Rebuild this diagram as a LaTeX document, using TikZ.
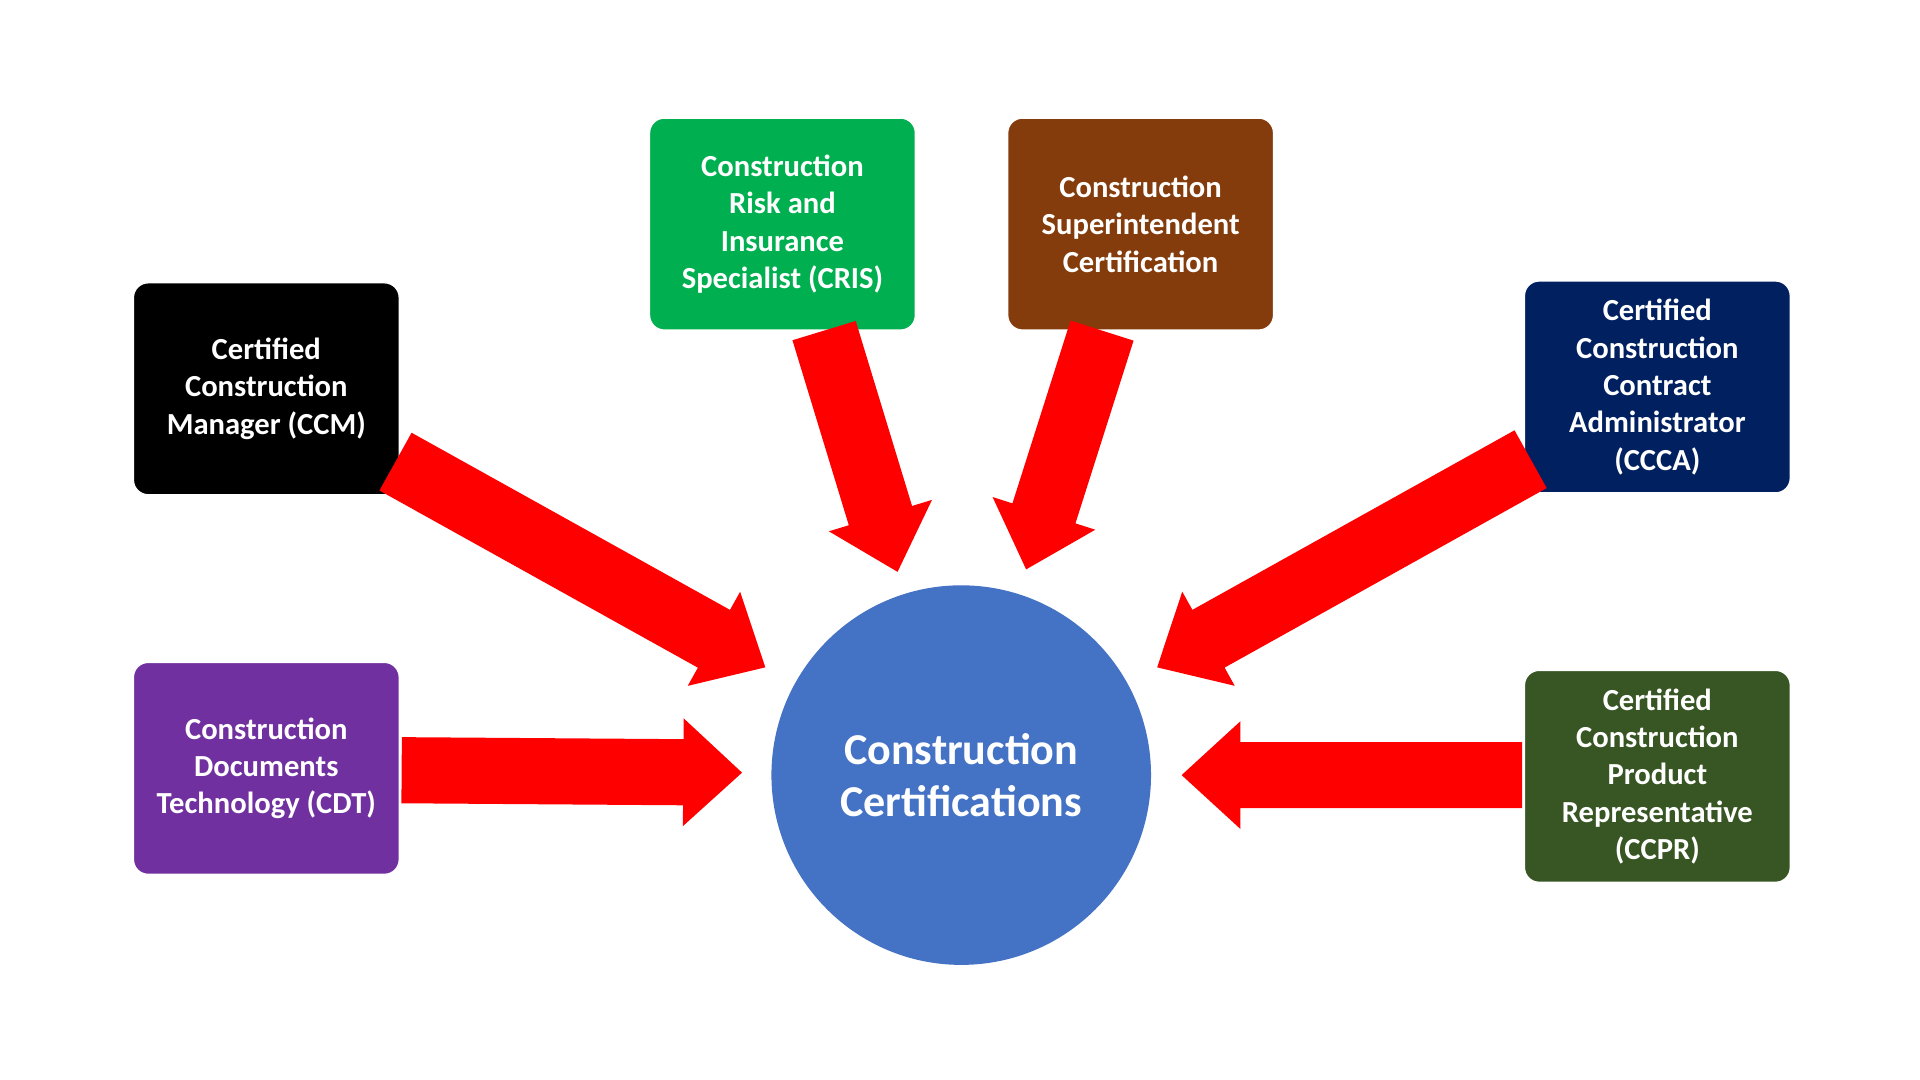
\documentclass[tikz,border=0pt]{standalone}
\usepackage{fontspec}
\setmainfont{Carlito}
\usetikzlibrary{calc}
\definecolor{ccm}{HTML}{000000}
\definecolor{cris}{HTML}{00B050}
\definecolor{sup}{HTML}{843C0C}
\definecolor{ccca}{HTML}{002060}
\definecolor{cdt}{HTML}{7030A0}
\definecolor{ccpr}{HTML}{375623}
\definecolor{circ}{HTML}{4472C4}
\newcommand\blockarrow[2]{%
  \coordinate (N) at ($(#2)!48pt!(#1)$);
  \fill[red] ($(#1)!27pt!90:(#2)$) -- ($(N)!27pt!-90:(#1)$) -- ($(N)!44pt!-90:(#1)$) -- (#2)
    -- ($(N)!44pt!90:(#1)$) -- ($(N)!27pt!90:(#1)$) -- ($(#1)!27pt!-90:(#2)$) -- cycle;}
\begin{document}
\begin{tikzpicture}[x=1pt,y=-1pt,
  cert/.style={draw=white,line width=1pt,rounded corners=12pt,minimum width=217pt,minimum height=173pt,text=white,align=center,font=\bfseries\fontsize{25}{30.5}\selectfont}]
\useasboundingbox (0,0) rectangle (1568,882);
\node[cert,fill=ccm] (ccm) at (217.5,317.5) {Certified\\Construction\\Manager (CCM)};
\node[cert,fill=cris] (cris) at (639,183) {Construction\\Risk and\\Insurance\\Specialist (CRIS)};
\node[cert,fill=sup] (sup) at (931.5,183) {Construction\\Superintendent\\Certification};
\node[cert,fill=ccca] (ccca) at (1353.5,316) {Certified\\Construction\\Contract\\Administrator\\(CCCA)};
\node[cert,fill=cdt] (cdt) at (217.5,627.5) {Construction\\Documents\\Technology (CDT)};
\node[cert,fill=ccpr] (ccpr) at (1353.5,634) {Certified\\Construction\\Product\\Representative\\(CCPR)};
\node[circle,fill=circ,minimum size=310pt,text=white,align=center,font=\bfseries\fontsize{36}{43}\selectfont] (c) at (785,633) {Construction\\Certifications};
\coordinate (t1) at (323,377); \coordinate (h1) at (625,545);
\coordinate (t2) at (673,270); \coordinate (h2) at (733,467);
\coordinate (t3) at (900,270); \coordinate (h3) at (838,465);
\coordinate (t4) at (1250,375); \coordinate (h4) at (945,545);
\coordinate (t5) at (328,629); \coordinate (h5) at (606,631);
\coordinate (t6) at (1243,633); \coordinate (h6) at (965,633);
\blockarrow{t1}{h1}
\blockarrow{t2}{h2}
\blockarrow{t3}{h3}
\blockarrow{t4}{h4}
\blockarrow{t5}{h5}
\blockarrow{t6}{h6}
\end{tikzpicture}
\end{document}
